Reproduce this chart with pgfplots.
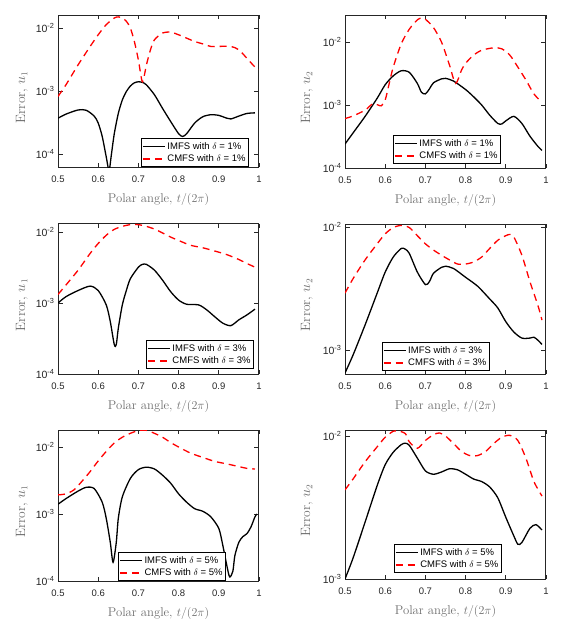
\documentclass[border=0pt]{standalone}
\usepackage{fontspec}
\setsansfont{Liberation Sans}
\usepackage{pgfplots}
\pgfplotsset{compat=1.18}

\definecolor{axgray}{RGB}{38,38,38}
\definecolor{lblgray}{RGB}{110,110,110}

\pgfplotsset{
  legend image code/.code={\draw[#1] (0pt,0pt) -- (22pt,0pt);},
  errpanel/.style={
    scale only axis, width=201pt,
    xmin=0.5, xmax=1,
    xtick={0.5,0.6,0.7,0.8,0.9,1},
    xticklabels={0.5,0.6,0.7,0.8,0.9,1},
    ytick={1e-4,1e-3,1e-2},
    yticklabels={10\textsuperscript{-4},10\textsuperscript{-3},10\textsuperscript{-2}},
    yminorticks=false,
    tick align=inside, xtick pos=both, ytick pos=both,
    major tick length=4.5pt,
    axis line style={axgray, line width=1pt},
    tick style={axgray, line width=0.9pt},
    xticklabel style={font=\sffamily\fontsize{9.5}{10}\selectfont, text=axgray, yshift=-5pt},
    yticklabel style={font=\sffamily\fontsize{10.5}{11}\selectfont, text=axgray},
    xlabel={Polar angle, $t/(2\pi)$},
    xlabel style={at={(axis description cs:0.5,-0.215)}, anchor=center,
      font=\fontsize{12.7}{14}\selectfont, text=lblgray},
    ylabel style={anchor=center, font=\fontsize{13.5}{15}\selectfont, text=lblgray},
    legend cell align=left,
    legend style={anchor=south east, draw=black, line width=0.8pt,
      font=\sffamily\fontsize{9.5}{11}\selectfont,
      inner xsep=1pt, inner ysep=1.5pt, row sep=0pt},
  },
}
\tikzset{
  imfs/.style={black, line width=1.3pt, smooth, tension=0.45},
  cmfs/.style={red, line width=1.3pt, dash pattern=on 7pt off 5pt, smooth, tension=0.45},
}

\begin{document}
\begin{tikzpicture}
\path[use as bounding box] (0pt,0pt) rectangle (574pt,625pt);

% row 1, left
\begin{semilogyaxis}[errpanel, at={(58pt,458pt)}, anchor=south west, height=152pt,
  ymin=6.22e-5, ymax=0.01607, ylabel={Error, $u_1$},
  ylabel style={at={(axis description cs:-0.18,0.46)}},
  legend style={at={(0.95,0)}}]
\addplot[imfs] coordinates {(0.5,3.7e-4)(0.52,4.3e-4)(0.55,5.0e-4)(0.57,4.95e-4)(0.59,4.0e-4)(0.6,3.1e-4)(0.61,1.9e-4)(0.62,9e-5)(0.627,5.5e-5)(0.633,1e-4)(0.64,2.1e-4)(0.65,4.4e-4)(0.66,7.2e-4)(0.67,9.8e-4)(0.68,1.2e-3)(0.69,1.35e-3)(0.7,1.4e-3)(0.71,1.37e-3)(0.72,1.25e-3)(0.74,8.7e-4)(0.76,5.3e-4)(0.78,3.3e-4)(0.8,2.1e-4)(0.81,1.9e-4)(0.82,2.1e-4)(0.84,3.1e-4)(0.86,3.9e-4)(0.88,4.2e-4)(0.9,4.1e-4)(0.92,3.7e-4)(0.93,3.6e-4)(0.95,4.0e-4)(0.97,4.4e-4)(0.99,4.5e-4)};
\addlegendentry{IMFS with $\delta$ = 1\%}
\addplot[cmfs] coordinates {(0.5,8.2e-4)(0.52,1.26e-3)(0.55,2.6e-3)(0.58,5.1e-3)(0.6,7.8e-3)(0.62,1.13e-2)(0.64,1.44e-2)(0.65,1.5e-2)(0.66,1.44e-2)(0.67,1.28e-2)(0.68,1.0e-2)(0.69,6.1e-3)(0.7,3.1e-3)(0.71,1.4e-3)(0.72,2.6e-3)(0.73,4.5e-3)(0.74,6.5e-3)(0.76,8.3e-3)(0.78,8.6e-3)(0.8,7.8e-3)(0.82,6.9e-3)(0.84,6.1e-3)(0.86,5.6e-3)(0.88,5.1e-3)(0.9,5.1e-3)(0.93,5.1e-3)(0.95,4.5e-3)(0.97,3.3e-3)(0.99,2.4e-3)(1.0,2.2e-3)};
\addlegendentry{CMFS with $\delta$ = 1\%}
\end{semilogyaxis}

% row 1, right
\begin{semilogyaxis}[errpanel, at={(345pt,457pt)}, anchor=south west, height=153pt,
  ymin=1e-4, ymax=0.02685, ylabel={Error, $u_2$},
  ylabel style={at={(axis description cs:-0.19,0.46)}},
  legend style={at={(0.776,0.026)}}]
\addplot[imfs] coordinates {(0.5,2.4e-4)(0.52,3.6e-4)(0.55,6.6e-4)(0.58,1.28e-3)(0.6,2.1e-3)(0.62,2.9e-3)(0.64,3.5e-3)(0.66,3.3e-3)(0.68,2.2e-3)(0.69,1.6e-3)(0.7,1.5e-3)(0.71,1.8e-3)(0.72,2.25e-3)(0.74,2.6e-3)(0.75,2.65e-3)(0.77,2.4e-3)(0.8,1.76e-3)(0.82,1.35e-3)(0.84,1.0e-3)(0.86,6.9e-4)(0.88,5.1e-4)(0.89,5.0e-4)(0.9,5.6e-4)(0.92,6.6e-4)(0.94,5.1e-4)(0.96,3.2e-4)(0.98,2.2e-4)(0.99,1.9e-4)};
\addlegendentry{IMFS with $\delta$ = 1\%}
\addplot[cmfs] coordinates {(0.5,6.1e-4)(0.52,6.7e-4)(0.55,8.3e-4)(0.57,1.05e-3)(0.59,9.7e-4)(0.6,1.2e-3)(0.61,2.2e-3)(0.62,4.0e-3)(0.64,9.4e-3)(0.66,1.6e-2)(0.68,2.25e-2)(0.69,2.4e-2)(0.7,2.3e-2)(0.72,1.7e-2)(0.74,1.0e-2)(0.76,4.3e-3)(0.775,2.2e-3)(0.79,3.6e-3)(0.8,4.6e-3)(0.82,6.2e-3)(0.84,7.4e-3)(0.87,8.1e-3)(0.89,7.8e-3)(0.91,6.2e-3)(0.93,4.0e-3)(0.95,2.5e-3)(0.97,1.5e-3)(0.99,1.1e-3)};
\addlegendentry{CMFS with $\delta$ = 1\%}
\end{semilogyaxis}

% row 2, left
\begin{semilogyaxis}[errpanel, at={(58pt,251pt)}, anchor=south west, height=150pt,
  ymin=1e-4, ymax=0.01297, ylabel={Error, $u_1$},
  ylabel style={at={(axis description cs:-0.18,0.46)}},
  legend style={at={(0.975,0.033)}}]
\addplot[imfs] coordinates {(0.5,1.0e-3)(0.52,1.23e-3)(0.55,1.5e-3)(0.58,1.73e-3)(0.6,1.5e-3)(0.62,9.4e-4)(0.63,5.5e-4)(0.64,2.6e-4)(0.645,2.6e-4)(0.65,4.4e-4)(0.66,9.4e-4)(0.67,1.5e-3)(0.68,2.2e-3)(0.7,3.2e-3)(0.71,3.5e-3)(0.72,3.5e-3)(0.74,2.9e-3)(0.76,2.1e-3)(0.78,1.45e-3)(0.8,1.1e-3)(0.82,9.6e-4)(0.85,9.4e-4)(0.87,8.0e-4)(0.89,6.4e-4)(0.91,5.2e-4)(0.93,4.8e-4)(0.95,5.8e-4)(0.97,6.8e-4)(0.99,8.2e-4)};
\addlegendentry{IMFS with $\delta$ = 3\%}
\addplot[cmfs] coordinates {(0.5,1.32e-3)(0.52,1.8e-3)(0.55,2.9e-3)(0.58,5.0e-3)(0.6,6.9e-3)(0.62,9.0e-3)(0.64,1.09e-2)(0.66,1.2e-2)(0.68,1.27e-2)(0.7,1.27e-2)(0.72,1.2e-2)(0.74,1.1e-2)(0.76,9.7e-3)(0.78,8.5e-3)(0.8,7.6e-3)(0.83,6.5e-3)(0.86,6.0e-3)(0.89,5.4e-3)(0.92,4.8e-3)(0.95,4.1e-3)(0.97,3.6e-3)(0.99,3.2e-3)};
\addlegendentry{CMFS with $\delta$ = 3\%}
\end{semilogyaxis}

% row 2, right
\begin{semilogyaxis}[errpanel, at={(345pt,251pt)}, anchor=south west, height=150pt,
  ymin=6.38e-4, ymax=0.01058, ylabel={Error, $u_2$},
  ylabel style={at={(axis description cs:-0.19,0.46)}},
  legend style={at={(0.72,0.02)}}]
\addplot[imfs] coordinates {(0.5,6.5e-4)(0.52,9.1e-4)(0.55,1.6e-3)(0.58,2.9e-3)(0.6,4.3e-3)(0.62,5.7e-3)(0.64,6.7e-3)(0.65,6.6e-3)(0.66,6.1e-3)(0.68,4.3e-3)(0.7,3.4e-3)(0.71,3.6e-3)(0.72,4.2e-3)(0.74,4.7e-3)(0.75,4.8e-3)(0.77,4.6e-3)(0.8,3.9e-3)(0.83,3.3e-3)(0.86,2.6e-3)(0.88,2.2e-3)(0.9,1.7e-3)(0.92,1.4e-3)(0.94,1.25e-3)(0.96,1.25e-3)(0.97,1.27e-3)(0.98,1.2e-3)(0.99,1.11e-3)};
\addlegendentry{IMFS with $\delta$ = 3\%}
\addplot[cmfs] coordinates {(0.5,2.9e-3)(0.52,3.8e-3)(0.55,5.4e-3)(0.58,7.3e-3)(0.6,8.8e-3)(0.62,9.9e-3)(0.64,1.03e-2)(0.66,9.9e-3)(0.68,8.5e-3)(0.7,7.3e-3)(0.72,6.5e-3)(0.74,5.9e-3)(0.76,5.4e-3)(0.78,5.0e-3)(0.8,5.0e-3)(0.82,5.2e-3)(0.84,5.7e-3)(0.86,6.7e-3)(0.88,7.8e-3)(0.9,8.5e-3)(0.91,8.7e-3)(0.92,8.3e-3)(0.94,5.9e-3)(0.96,3.6e-3)(0.98,2.3e-3)(0.99,1.75e-3)};
\addlegendentry{CMFS with $\delta$ = 3\%}
\end{semilogyaxis}

% row 3, left
\begin{semilogyaxis}[errpanel, at={(58pt,44pt)}, anchor=south west, height=151pt,
  ymin=1e-4, ymax=0.01795, ylabel={Error, $u_1$},
  ylabel style={at={(axis description cs:-0.18,0.46)}},
  legend style={at={(0.836,0)}}]
\addplot[imfs] coordinates {(0.5,1.4e-3)(0.52,1.7e-3)(0.55,2.2e-3)(0.57,2.5e-3)(0.59,2.4e-3)(0.61,1.5e-3)(0.62,8.6e-4)(0.63,3.8e-4)(0.637,1.9e-4)(0.645,3.8e-4)(0.65,8.6e-4)(0.66,1.8e-3)(0.68,3.4e-3)(0.7,4.6e-3)(0.72,5.0e-3)(0.74,4.7e-3)(0.76,3.8e-3)(0.78,2.9e-3)(0.8,2.0e-3)(0.82,1.5e-3)(0.84,1.2e-3)(0.86,1.1e-3)(0.88,9.1e-4)(0.9,6.1e-4)(0.91,3.4e-4)(0.92,1.7e-4)(0.927,1.15e-4)(0.935,1.4e-4)(0.94,2.4e-4)(0.95,3.8e-4)(0.96,4.6e-4)(0.97,5.1e-4)(0.98,6.4e-4)(0.99,9.1e-4)(0.995,1.0e-3)};
\addlegendentry{IMFS with $\delta$ = 5\%}
\addplot[cmfs] coordinates {(0.5,1.93e-3)(0.52,2.0e-3)(0.54,2.3e-3)(0.56,3.1e-3)(0.58,4.3e-3)(0.6,6.2e-3)(0.62,8.6e-3)(0.64,1.15e-2)(0.66,1.4e-2)(0.68,1.6e-2)(0.7,1.76e-2)(0.72,1.78e-2)(0.74,1.6e-2)(0.76,1.4e-2)(0.78,1.17e-2)(0.8,1.0e-2)(0.83,8.1e-3)(0.86,7.0e-3)(0.89,6.1e-3)(0.92,5.6e-3)(0.95,5.1e-3)(0.97,4.8e-3)(0.99,4.7e-3)};
\addlegendentry{CMFS with $\delta$ = 5\%}
\end{semilogyaxis}

% row 3, right
\begin{semilogyaxis}[errpanel, at={(345pt,46pt)}, anchor=south west, height=149pt,
  ymin=1e-3, ymax=0.01101, ylabel={Error, $u_2$},
  ylabel style={at={(axis description cs:-0.19,0.46)}},
  legend style={at={(0.78,0.04)}}]
\addplot[imfs] coordinates {(0.5,1.0e-3)(0.52,1.4e-3)(0.55,2.5e-3)(0.58,4.5e-3)(0.6,6.3e-3)(0.62,7.7e-3)(0.64,8.7e-3)(0.65,8.9e-3)(0.66,8.6e-3)(0.68,7.0e-3)(0.7,5.7e-3)(0.72,5.4e-3)(0.74,5.6e-3)(0.76,5.9e-3)(0.78,5.8e-3)(0.8,5.4e-3)(0.82,5.0e-3)(0.84,4.8e-3)(0.86,4.4e-3)(0.88,3.7e-3)(0.9,2.7e-3)(0.92,2.0e-3)(0.93,1.75e-3)(0.94,1.8e-3)(0.96,2.26e-3)(0.975,2.4e-3)(0.99,2.2e-3)};
\addlegendentry{IMFS with $\delta$ = 5\%}
\addplot[cmfs] coordinates {(0.5,4.2e-3)(0.52,5.0e-3)(0.55,6.6e-3)(0.58,8.4e-3)(0.6,9.8e-3)(0.62,1.08e-2)(0.63,1.09e-2)(0.65,1.04e-2)(0.66,9.1e-3)(0.68,8.2e-3)(0.7,9.3e-3)(0.72,1.02e-2)(0.735,1.05e-2)(0.75,1.0e-2)(0.77,8.85e-3)(0.79,7.8e-3)(0.81,7.3e-3)(0.83,7.3e-3)(0.85,7.8e-3)(0.87,8.85e-3)(0.89,9.8e-3)(0.91,1.01e-2)(0.93,9.3e-3)(0.95,7.0e-3)(0.97,4.8e-3)(0.99,3.8e-3)};
\addlegendentry{CMFS with $\delta$ = 5\%}
\end{semilogyaxis}
\end{tikzpicture}
\end{document}
